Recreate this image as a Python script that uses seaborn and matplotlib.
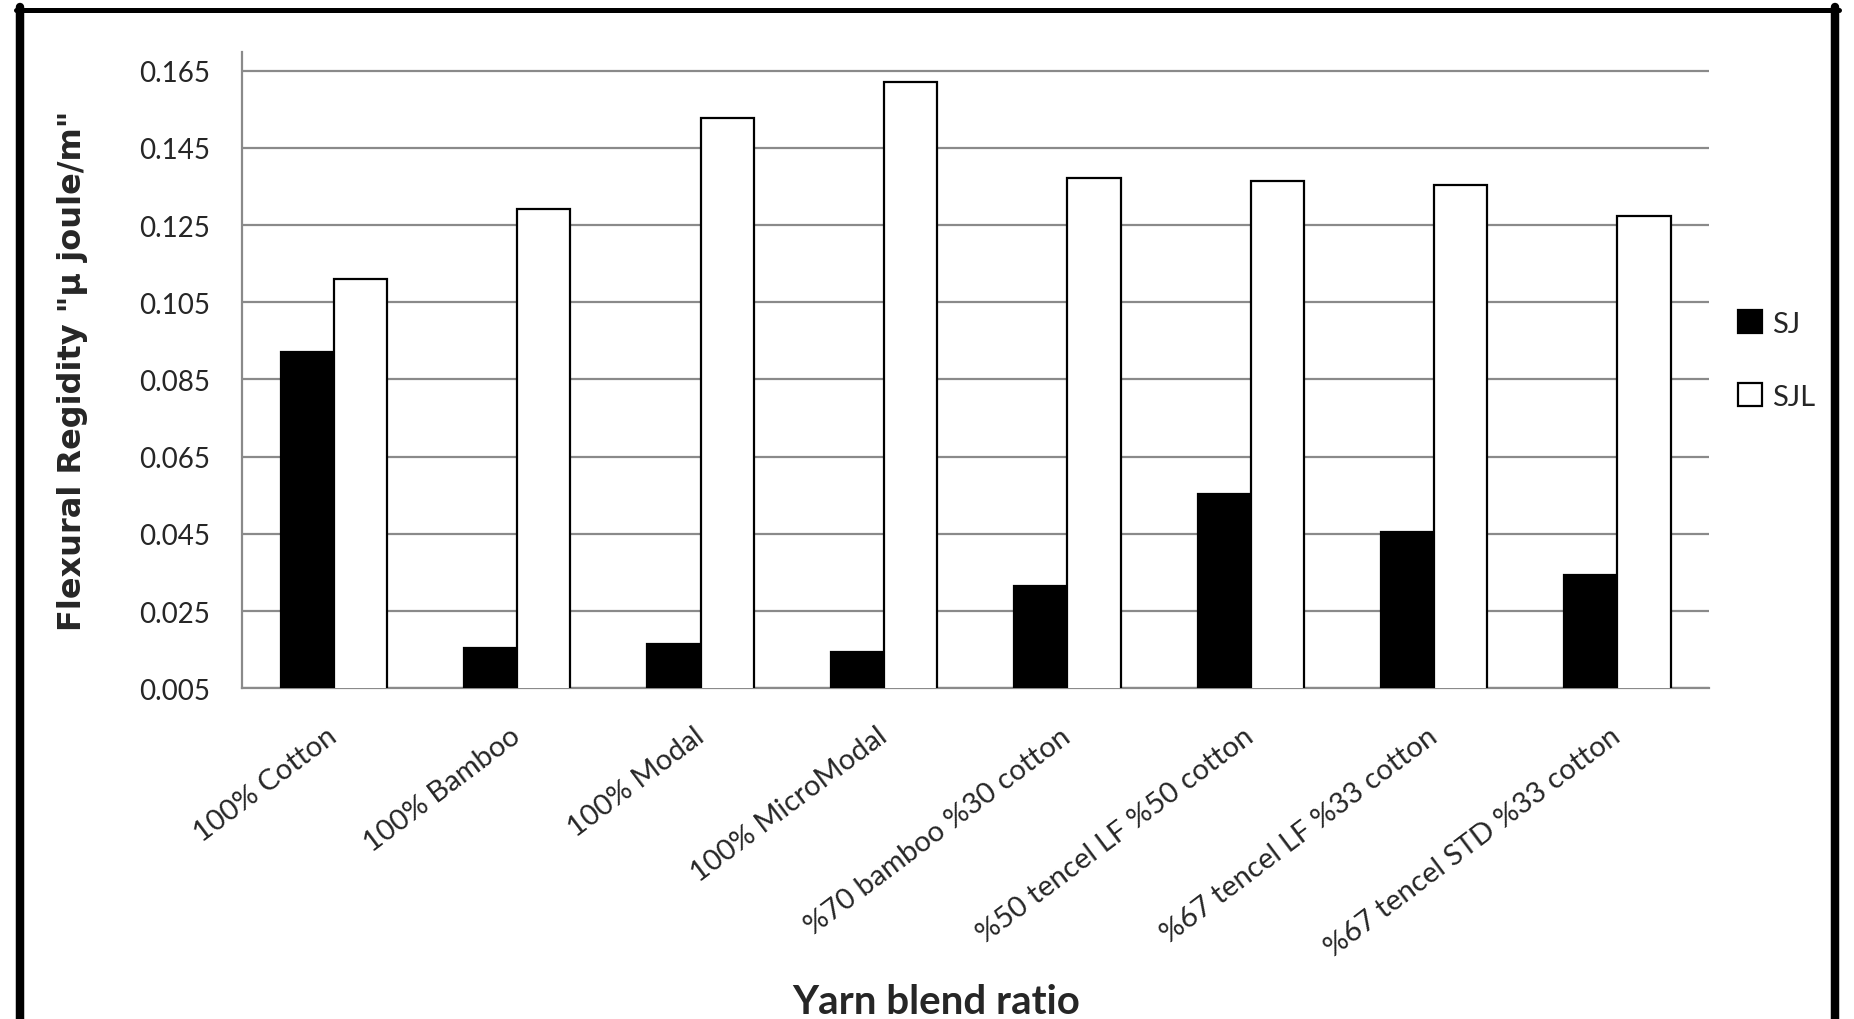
import pandas as pd
import numpy as np
import seaborn as sns
import matplotlib.pyplot as plt
from matplotlib.lines import Line2D

sns.set_style("white")
plt.rcParams["font.family"] = ["Lato", "DejaVu Sans"]

# ===================== DATA =====================
blends = [
    "100% Cotton",
    "100% Bamboo",
    "100% Modal",
    "100% MicroModal",
    "%70 bamboo %30 cotton",
    "%50 tencel LF %50 cotton",
    "%67 tencel LF %33 cotton",
    "%67 tencel STD %33 cotton",
]
sj_values  = [0.0920, 0.0154, 0.0166, 0.0145, 0.0316, 0.0554, 0.0456, 0.0343]
sjl_values = [0.1110, 0.1291, 0.1527, 0.1621, 0.1372, 0.1363, 0.1354, 0.1274]
y_ticks = [0.005, 0.025, 0.045, 0.065, 0.085, 0.105, 0.125, 0.145, 0.165]
y_tick_labels = ["0.005", "0.025", "0.045", "0.065", "0.085", "0.105", "0.125", "0.145", "0.165"]

df = pd.DataFrame({
    "Blend": blends * 2,
    "Fabric": ["SJ"] * len(blends) + ["SJL"] * len(blends),
    "Value": sj_values + sjl_values,
})

# ===================== FIGURE =====================
fig = plt.figure(figsize=(18.54, 10.20), dpi=100)
ax = fig.add_axes([0.1307, 0.3242, 0.7911, 0.6238])

grid_gray = "#8a8a8a"

sns.barplot(
    data=df, x="Blend", y="Value", hue="Fabric",
    palette={"SJ": "black", "SJL": "white"},
    edgecolor="black", linewidth=1.6, width=0.58,
    ax=ax, zorder=3
)

ax.set_xlim(-0.5, len(blends) - 0.5)
ax.set_ylim(0.005, 0.1698)
ax.set_yticks(y_ticks)
ax.set_yticklabels(y_tick_labels, fontsize=20)
ax.yaxis.grid(True, color=grid_gray, linewidth=1.6)
ax.set_axisbelow(True)

for side in ["top", "right"]:
    ax.spines[side].set_visible(False)
for side in ["left", "bottom"]:
    ax.spines[side].set_color(grid_gray)
    ax.spines[side].set_linewidth(1.6)

ax.tick_params(axis="y", direction="out", length=7, width=1.6, color=grid_gray, pad=16)
ax.tick_params(axis="x", length=0, pad=32)

for lbl in ax.get_xticklabels():
    lbl.set_rotation(37)
    lbl.set_rotation_mode("anchor")
    lbl.set_ha("right")
    lbl.set_va("center")
    lbl.set_fontsize(21)

ax.set_xlabel("Yarn blend ratio", fontsize=29, fontweight="bold")
ax.xaxis.set_label_coords(0.473, -0.51)
ax.xaxis.label.set_va("baseline")

ax.set_ylabel('Flexural Regidity "µ joule/m"', fontsize=23, fontweight="bold",
              family="DejaVu Sans")
ax.yaxis.set_label_coords(-0.1156, 0.5)
ax.yaxis.label.set_va("center")

# ===================== LEGEND =====================
leg = ax.legend(
    title=None, frameon=False, fontsize=21,
    loc="center left", bbox_to_anchor=(1.012, 0.516),
    handlelength=0.8, handleheight=0.8, handletextpad=0.35,
    labelspacing=1.6, borderaxespad=0
)
for h in leg.legend_handles:
    h.set_edgecolor("black")
    h.set_linewidth(1.6)

# ===================== OUTER FRAME =====================
# thick black box round the chart (bottom edge is cropped in the original)
frame_left, frame_right, frame_top = 0.0108, 0.9895, 0.9897
fig.lines.append(Line2D([frame_left, frame_left], [-0.05, frame_top + 0.0025],
                        transform=fig.transFigure, color="black", linewidth=6.1))
fig.lines.append(Line2D([frame_right, frame_right], [-0.05, frame_top + 0.0025],
                        transform=fig.transFigure, color="black", linewidth=6.1))
fig.lines.append(Line2D([frame_left - 0.0023, frame_right + 0.0023], [frame_top, frame_top],
                        transform=fig.transFigure, color="black", linewidth=3.6))

fig.savefig("out.png", dpi=100)
